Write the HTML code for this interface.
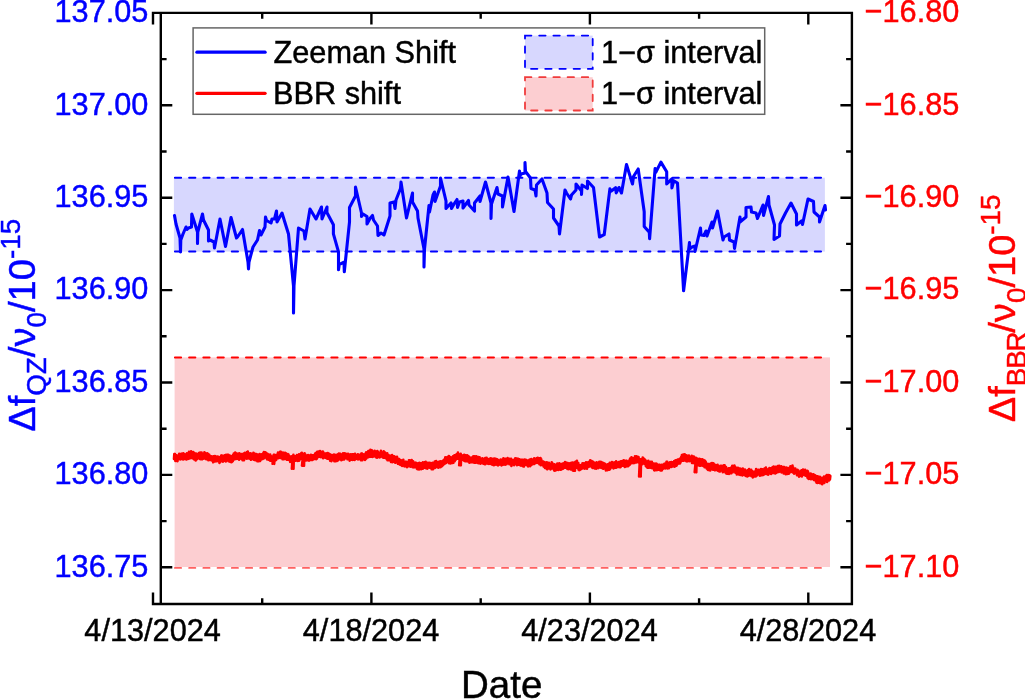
<!DOCTYPE html>
<html><head><meta charset="utf-8"><title>Zeeman and BBR shift</title>
<style>html,body{margin:0;padding:0;background:#fff;overflow:hidden;width:1025px;height:699px}svg{display:block}</style>
</head><body>
<svg width="1025" height="699" viewBox="0 0 1025 699" font-family="'Liberation Sans', Arial, sans-serif">
<rect width="1025" height="699" fill="#fff"/>
<rect x="173.9" y="177.7" width="651.0" height="73.9" fill="#d7d7fe"/>
<rect x="174.6" y="357.4" width="655.4" height="209.60000000000002" fill="#fcced1"/>
<g stroke-width="2" stroke-linecap="round" stroke-dasharray="6.22 8">
<line x1="174.9" y1="177.7" x2="824" y2="177.7" stroke="#0000ff"/>
<line x1="174.9" y1="251.6" x2="824" y2="251.6" stroke="#0000ff"/>
<line x1="174.9" y1="357.4" x2="829" y2="357.4" stroke="#ff0000"/>
<line x1="174.9" y1="567.9" x2="829" y2="567.9" stroke="#ff0000" stroke-opacity="0.62" stroke-width="1.8"/>
</g>
<polyline points="174.0,459.0 174.3,454.0 174.7,458.5 175.0,454.1 175.4,461.0 175.7,455.2 176.1,460.1 176.4,455.3 176.8,460.2 177.1,456.4 177.5,461.1 177.8,455.7 178.2,459.0 178.5,455.8 178.9,458.9 179.2,453.8 179.6,458.1 179.9,455.3 180.3,459.5 180.6,454.9 181.0,457.7 181.3,453.7 181.7,458.9 182.0,453.8 182.4,459.1 182.7,454.7 183.1,459.5 183.4,453.3 183.8,457.6 184.1,454.9 184.5,459.0 184.8,454.3 185.2,458.7 185.5,455.4 185.9,459.1 186.2,455.4 186.6,459.5 186.9,453.4 187.3,458.0 187.6,453.7 188.0,459.0 188.3,454.1 188.7,458.7 189.0,451.8 189.4,457.2 189.7,452.8 190.1,458.1 190.4,452.3 190.8,456.9 191.1,451.3 191.5,457.9 191.8,452.8 192.2,456.8 192.5,453.1 192.9,457.6 193.2,452.0 193.6,459.0 193.9,452.7 194.3,459.5 194.6,453.4 195.0,458.1 195.3,454.5 195.7,460.4 196.0,453.5 196.4,458.6 196.7,454.5 197.1,459.2 197.4,454.2 197.8,458.5 198.1,454.5 198.5,457.9 198.8,453.1 199.2,456.7 199.5,453.9 199.9,459.0 200.2,452.5 200.6,459.1 200.9,453.0 201.3,459.0 201.6,452.6 202.0,459.3 202.3,454.7 202.7,458.7 203.0,454.1 203.4,458.6 203.7,453.9 204.1,458.1 204.4,452.2 204.8,458.4 205.1,453.9 205.5,458.1 205.8,453.5 206.2,459.2 206.5,453.9 206.9,457.9 207.2,453.3 207.6,457.7 207.9,453.8 208.3,460.1 208.6,454.4 209.0,458.9 209.3,454.9 209.7,460.0 210.0,456.1 210.4,459.4 210.7,456.6 211.1,460.2 211.4,456.3 211.8,460.5 212.1,457.0 212.5,460.3 212.8,456.5 213.2,462.3 213.5,456.4 213.9,461.7 214.2,456.3 214.6,460.7 214.9,456.1 215.3,461.2 215.6,456.3 216.0,461.5 216.3,456.5 216.7,460.7 217.0,457.0 217.4,460.6 217.7,456.6 218.1,461.2 218.4,456.7 218.8,460.6 219.1,457.5 219.5,462.9 219.8,457.9 220.2,462.1 220.5,457.0 220.9,461.1 221.2,455.5 221.6,460.7 221.9,455.6 222.3,460.1 222.6,457.1 223.0,461.7 223.3,456.1 223.7,459.7 224.0,456.2 224.4,460.6 224.7,455.3 225.1,459.7 225.4,456.4 225.8,461.5 226.1,454.9 226.5,459.4 226.8,455.7 227.2,459.8 227.5,454.9 227.9,460.5 228.2,454.7 228.6,461.2 228.9,455.8 229.3,461.4 229.6,455.6 230.0,461.7 230.3,456.5 230.7,462.0 231.0,456.0 231.4,462.2 231.7,457.2 232.1,461.8 232.4,457.1 232.8,461.1 233.1,455.1 233.5,459.8 233.8,453.5 234.2,459.3 234.5,454.2 234.9,459.2 235.2,452.6 235.6,458.5 235.9,453.7 236.3,458.1 236.6,453.6 237.0,458.9 237.3,454.2 237.7,458.3 238.0,453.8 238.4,458.6 238.7,454.6 239.1,459.7 239.4,453.4 239.8,459.0 240.1,454.4 240.5,458.2 240.8,454.6 241.2,458.1 241.5,454.0 241.9,459.2 242.2,455.2 242.6,460.1 242.9,454.7 243.3,460.0 243.6,453.5 244.0,460.2 244.3,454.9 244.7,458.7 245.0,452.9 245.4,457.3 245.7,454.5 246.1,458.1 246.4,453.0 246.8,458.7 247.1,452.1 247.5,457.6 247.8,451.6 248.2,457.7 248.5,453.0 248.9,458.5 249.2,453.8 249.6,458.3 249.9,453.9 250.3,458.8 250.6,453.4 251.0,459.8 251.3,454.6 251.7,458.4 252.0,454.7 252.4,458.8 252.7,453.9 253.1,458.9 253.4,452.9 253.8,459.6 254.1,453.8 254.5,458.5 254.8,453.7 255.2,460.1 255.5,454.7 255.9,459.5 256.2,454.0 256.6,459.0 256.9,455.6 257.3,461.2 257.6,454.5 258.0,460.1 258.3,456.3 258.7,461.1 259.0,454.9 259.4,460.9 259.7,454.1 260.1,461.0 260.4,455.3 260.8,459.0 261.1,455.4 261.5,459.5 261.8,454.4 262.2,458.3 262.5,454.8 262.9,458.9 263.2,453.4 263.6,457.9 263.9,452.1 264.3,458.3 264.6,454.2 265.0,457.6 265.3,452.3 265.7,457.4 266.0,452.7 266.4,456.9 266.7,453.9 267.1,459.3 267.4,453.7 267.8,459.4 268.1,455.3 268.5,459.6 268.8,454.9 269.2,459.5 269.5,455.2 269.9,460.5 270.2,454.6 270.6,460.8 270.9,456.1 271.3,459.7 271.6,456.6 272.0,461.1 272.3,456.6 272.7,459.4 273.0,456.4 273.4,460.4 272.6,463.8 273.4,463.2 274.2,463.8 274.5,457.9 273.7,454.7 274.1,460.5 274.4,454.7 274.8,459.1 275.1,456.4 275.5,460.5 275.8,455.3 276.2,460.0 276.6,454.8 276.9,458.2 277.3,454.5 277.6,457.5 278.0,452.5 278.3,458.3 278.7,453.5 279.0,457.7 279.4,453.2 279.7,456.6 280.1,451.9 280.4,457.9 280.8,451.8 281.1,457.5 281.5,452.5 281.8,457.2 282.2,454.2 282.5,459.1 282.9,452.6 283.2,457.9 283.6,452.7 283.9,459.3 284.3,454.3 284.6,458.9 285.0,452.9 285.3,458.8 285.7,453.0 286.0,458.4 286.4,454.6 286.7,459.8 287.1,455.2 287.4,459.1 287.8,454.0 288.1,459.8 288.5,454.5 288.8,459.6 289.2,456.4 289.5,460.2 289.9,456.6 290.2,461.9 290.6,456.5 290.9,461.0 291.3,457.0 291.6,460.9 292.0,456.3 292.3,460.4 292.7,456.8 291.9,468.7 292.7,468.1 293.5,468.7 293.8,458.2 293.0,459.6 293.4,454.9 293.7,460.1 294.1,456.3 294.4,459.7 294.8,456.2 295.1,459.9 295.5,456.8 295.8,460.8 296.2,456.0 296.5,459.5 296.9,455.0 297.2,459.2 297.6,455.9 297.9,460.9 298.3,456.1 298.6,459.8 299.0,454.3 299.3,460.6 299.7,455.8 300.0,459.3 300.4,454.2 300.7,459.0 301.1,453.2 301.4,458.2 301.8,452.8 302.1,458.5 302.5,454.2 302.8,458.1 302.0,465.7 302.8,465.1 303.6,465.7 303.9,455.8 303.2,454.2 302.4,465.7 303.2,465.1 304.0,465.7 304.3,455.7 303.5,458.5 303.9,453.8 304.2,459.1 304.6,453.3 304.9,458.2 305.3,454.6 305.6,459.3 306.0,455.2 306.3,460.5 306.7,456.0 307.0,460.2 307.4,455.4 307.7,459.9 308.1,455.0 308.4,460.2 308.8,455.3 309.1,460.6 309.5,456.0 309.8,460.1 310.2,456.5 310.5,459.5 310.9,454.7 311.2,459.9 311.6,455.1 311.9,459.4 312.3,455.3 312.6,459.9 313.0,455.3 313.3,459.4 313.7,456.0 314.0,459.1 314.4,455.1 314.7,458.2 315.1,453.5 315.4,458.1 315.8,453.8 316.1,459.2 316.5,452.5 316.8,458.7 317.2,451.9 317.5,456.4 317.9,452.8 318.2,455.8 318.6,451.6 318.9,457.0 319.3,452.0 319.6,456.1 320.0,451.0 320.3,456.6 320.7,452.0 321.0,457.1 321.4,452.0 321.7,456.9 322.1,452.8 322.4,456.2 322.8,451.6 323.1,458.2 323.5,452.6 323.8,457.0 324.2,454.5 324.5,457.4 324.9,454.2 325.2,457.7 325.6,453.6 325.9,456.9 326.3,453.6 326.6,458.2 327.0,453.8 327.3,458.7 327.7,453.0 328.0,458.6 328.4,454.1 328.7,458.4 329.1,453.7 329.4,458.9 329.8,455.9 330.1,460.6 330.5,454.6 330.8,459.7 331.2,456.6 331.5,461.2 331.9,455.3 332.2,459.2 332.6,456.1 332.9,459.4 333.3,454.8 333.6,459.7 334.0,454.6 334.3,461.1 334.7,456.8 335.0,461.3 335.4,456.1 335.7,461.2 336.1,454.8 336.4,459.7 336.8,456.2 337.1,460.9 337.5,455.0 337.8,460.5 338.2,454.0 338.5,459.7 338.9,453.5 339.2,459.4 339.6,454.4 339.9,458.0 340.3,453.9 340.6,459.0 341.0,454.4 341.3,460.3 341.7,455.4 342.0,459.9 342.4,455.5 342.7,459.5 343.1,453.4 343.4,458.2 343.8,453.7 344.1,459.5 344.5,453.2 344.8,458.3 345.2,454.0 345.5,457.2 345.9,453.8 346.2,458.2 346.6,454.4 346.9,458.2 347.3,454.8 347.6,459.3 348.0,453.7 348.3,458.5 348.7,455.0 349.0,459.4 349.4,454.8 349.7,460.6 350.1,455.3 350.4,459.3 350.8,454.2 351.1,459.1 351.5,455.1 351.8,459.6 352.2,454.4 352.5,460.0 352.9,454.4 353.2,458.9 353.6,454.4 353.9,459.7 354.3,454.7 354.6,460.0 355.0,453.8 355.3,458.4 355.7,455.1 356.0,459.0 356.4,455.3 356.7,458.4 357.1,455.2 357.4,458.8 357.8,454.2 358.1,459.4 358.5,455.7 358.8,459.1 359.2,454.7 359.5,459.0 359.9,455.3 360.2,458.1 360.6,455.4 360.9,460.2 361.3,453.5 361.6,457.9 362.0,453.6 362.3,460.1 362.7,454.0 363.0,458.1 363.4,454.3 363.7,459.0 364.1,455.1 364.4,459.2 364.8,455.4 365.1,459.9 365.5,453.6 365.8,458.9 366.2,452.4 366.5,458.4 366.9,453.5 367.2,456.8 367.6,453.2 367.9,455.7 368.3,451.1 368.6,457.1 369.0,451.8 369.3,455.2 369.7,450.7 370.0,456.6 370.4,449.9 370.7,454.9 371.1,450.2 371.4,456.6 371.8,450.4 372.1,455.5 372.5,451.9 372.8,456.9 373.2,451.8 373.5,455.9 373.9,451.4 374.2,456.1 374.6,450.8 374.9,455.8 375.3,452.8 375.6,456.7 376.0,451.5 376.3,457.4 376.7,451.4 377.0,457.7 377.4,451.0 377.7,456.9 378.1,452.1 378.4,456.1 378.8,452.7 379.1,457.2 379.5,453.2 379.8,457.5 380.2,453.0 380.5,456.8 380.9,450.9 381.2,455.8 381.6,453.0 381.9,456.5 382.3,452.6 382.6,457.2 383.0,453.1 383.3,457.6 383.7,451.3 384.0,457.8 384.4,452.7 384.7,457.0 385.1,452.6 385.4,458.0 385.8,453.6 386.1,458.0 386.5,453.9 386.8,459.1 387.2,453.3 387.5,460.1 387.9,455.3 388.2,459.1 388.6,455.1 388.9,460.1 389.3,455.8 389.6,459.7 390.0,456.8 390.3,460.3 390.7,456.1 391.0,462.0 391.4,455.2 391.7,461.9 392.1,455.1 392.4,462.2 392.8,456.1 393.1,462.0 393.5,457.5 393.8,461.8 394.2,456.4 394.5,461.1 394.9,456.7 395.2,462.8 395.6,457.1 395.9,462.3 396.3,457.8 396.6,462.0 397.0,456.8 397.3,461.7 397.7,459.0 398.0,463.8 398.4,459.0 398.7,463.0 399.1,459.1 399.4,464.2 399.8,459.7 400.1,464.6 400.5,460.0 400.8,465.0 401.2,460.4 401.5,464.0 401.9,461.0 402.2,466.0 402.6,460.3 402.9,464.4 403.3,459.8 403.6,465.1 404.0,462.0 404.3,466.1 404.7,462.0 405.0,466.4 405.4,461.7 405.7,466.1 406.1,461.9 406.4,466.0 406.8,462.1 407.1,467.1 407.5,463.0 407.8,466.4 408.2,462.7 408.5,466.1 408.9,460.4 409.2,466.0 409.6,460.4 409.9,466.2 410.3,461.6 410.6,466.6 411.0,460.2 411.3,464.6 411.7,460.0 412.0,465.5 412.4,461.8 412.7,467.1 413.1,461.2 413.4,467.0 413.8,462.6 414.1,467.4 414.5,463.2 414.8,466.5 415.2,462.9 415.5,466.4 415.9,462.8 416.2,467.3 416.6,463.8 416.9,468.7 417.3,463.7 417.6,469.3 418.0,463.3 418.3,469.3 418.7,463.5 419.0,469.5 419.4,462.9 419.7,467.9 420.1,463.4 420.4,468.4 420.8,463.4 421.1,469.2 421.5,463.2 421.8,467.7 422.2,464.0 422.5,468.8 422.9,462.2 423.2,468.5 423.6,464.1 423.9,468.0 424.3,463.8 424.6,467.7 425.0,462.1 425.3,466.7 425.7,461.8 426.0,468.1 426.4,463.5 426.7,467.0 427.1,463.1 427.4,468.7 427.8,462.9 428.1,467.1 428.5,464.4 428.8,467.2 429.2,462.7 429.5,467.5 429.9,463.3 430.2,467.8 430.6,463.0 430.9,468.0 431.3,464.4 431.6,469.2 432.0,463.4 432.3,468.7 432.7,462.7 433.0,469.3 433.4,464.4 433.7,467.5 434.1,463.7 434.4,467.5 434.8,461.6 435.1,467.9 435.5,463.3 435.8,466.0 436.2,461.1 436.5,467.0 436.9,462.0 437.2,466.4 437.6,462.5 437.9,467.4 438.3,462.1 438.6,467.6 439.0,461.7 439.3,465.9 439.7,462.6 440.0,466.3 440.4,461.2 440.7,467.1 441.1,463.0 441.4,465.8 441.8,462.0 442.1,466.1 442.5,461.0 442.8,465.4 443.2,461.0 443.5,463.9 443.9,459.8 444.2,464.1 444.6,460.4 444.9,463.6 445.3,457.4 445.6,462.0 446.0,458.8 446.3,462.9 446.7,458.0 447.0,461.5 447.4,457.1 447.7,461.3 448.1,456.9 448.4,462.0 448.8,456.1 449.1,463.3 449.5,458.5 449.8,462.4 450.2,457.0 450.5,463.5 450.9,457.2 451.2,463.0 451.6,457.5 451.9,462.2 452.3,458.1 452.6,463.0 453.0,456.3 453.3,462.8 453.7,456.3 454.0,460.7 454.4,455.4 454.7,461.1 455.1,455.4 455.4,460.2 455.8,455.1 456.1,459.4 456.5,454.4 456.8,457.8 457.2,454.3 457.5,458.2 457.9,452.6 458.2,458.6 458.6,454.2 458.9,458.2 459.3,454.8 459.6,458.7 460.0,455.4 459.2,465.3 460.0,464.7 460.8,465.3 461.1,456.9 460.3,458.3 460.7,453.9 461.0,459.6 461.4,455.1 461.7,460.0 462.1,455.5 462.4,459.0 462.8,456.0 463.1,459.3 463.5,455.4 463.8,460.3 464.2,454.8 464.5,460.9 464.9,455.5 465.2,461.1 465.6,455.3 465.9,459.5 466.3,456.7 466.6,461.1 467.0,455.2 467.3,461.0 467.7,456.0 468.0,461.5 468.4,456.0 468.7,460.7 469.1,457.0 469.4,462.8 469.8,457.5 470.1,461.2 470.5,458.1 470.8,461.0 471.2,457.5 471.5,462.3 471.9,457.7 472.2,461.7 472.6,457.9 472.9,462.3 473.3,456.4 473.6,462.5 474.0,458.0 474.3,462.7 474.7,456.2 475.0,462.3 475.4,458.2 475.7,462.7 476.1,456.2 476.4,461.5 476.8,458.0 477.1,461.2 477.5,457.1 477.8,463.0 478.2,457.1 478.5,463.3 478.9,458.4 479.2,462.2 479.6,457.4 479.9,463.3 480.3,458.6 480.6,463.7 481.0,459.0 481.3,462.4 481.7,458.9 482.0,462.5 482.4,458.4 482.7,463.1 483.1,458.7 483.4,463.6 483.8,459.1 484.1,463.1 484.5,459.5 484.8,464.1 485.2,458.1 485.5,464.2 485.9,459.3 486.2,463.3 486.6,457.7 486.9,462.6 487.3,459.2 487.6,462.3 488.0,459.2 488.3,463.8 488.7,459.4 489.0,464.0 489.4,458.7 489.7,463.5 490.1,458.5 490.4,463.7 490.8,458.4 491.1,463.9 491.5,459.4 491.8,464.4 492.2,459.7 492.5,464.5 492.9,458.7 493.2,464.9 493.6,460.0 493.9,465.1 494.3,458.6 494.6,464.5 495.0,460.3 495.3,464.7 495.7,458.8 496.0,463.7 496.4,460.9 496.7,464.4 497.1,459.2 497.4,465.0 497.8,459.9 498.1,465.5 498.5,460.2 498.8,464.9 499.2,460.5 499.5,463.2 499.9,460.5 500.2,463.4 500.6,459.6 500.9,464.6 501.3,460.4 501.6,465.5 502.0,459.9 502.3,463.5 502.7,460.2 503.0,464.7 503.4,458.3 503.7,463.1 504.1,460.2 504.4,464.4 504.8,459.4 505.1,464.7 505.5,458.7 505.8,463.8 506.2,459.1 506.5,464.3 506.9,459.0 507.2,463.4 507.6,458.1 507.9,463.1 508.3,458.8 508.6,463.2 509.0,459.1 509.3,464.1 509.7,458.7 510.0,463.4 510.4,459.6 510.7,464.4 511.1,458.9 511.4,465.9 511.8,459.8 512.1,464.3 512.5,460.8 512.8,464.4 513.2,460.3 513.5,464.2 513.9,460.6 514.2,465.2 514.6,459.3 514.9,463.8 515.3,458.2 515.6,463.5 516.0,459.2 516.3,463.3 516.7,458.5 517.0,465.1 517.4,460.0 517.7,464.9 518.1,458.8 518.4,464.0 518.8,460.3 519.1,464.8 519.5,459.2 519.8,464.3 520.2,459.9 520.5,465.5 520.9,460.7 521.2,465.6 521.6,459.8 521.9,464.9 522.3,459.9 522.6,465.4 523.0,460.3 523.3,466.5 523.7,461.5 524.0,466.4 524.4,459.5 524.7,464.9 525.1,461.8 525.4,464.6 525.8,459.7 526.1,464.5 526.5,460.0 526.8,465.1 527.2,460.6 527.5,465.1 527.9,462.0 528.2,466.4 528.6,462.1 528.9,465.4 529.3,459.8 529.6,465.9 530.0,459.5 530.3,466.2 530.7,461.1 531.0,464.0 531.4,459.0 531.7,464.8 532.1,460.6 532.4,464.2 532.8,460.0 533.1,464.0 533.5,460.4 533.8,463.1 534.2,458.3 534.5,463.9 534.9,458.5 535.2,463.2 535.6,459.3 535.9,463.0 536.3,459.1 536.6,462.8 537.0,458.1 537.3,462.4 537.7,457.7 538.0,463.0 538.4,459.1 538.7,462.7 539.1,458.3 539.4,464.3 539.8,459.0 540.1,463.0 540.5,458.1 540.8,465.2 541.2,459.2 541.5,464.3 541.9,461.2 542.2,464.9 542.6,462.1 542.9,465.1 543.3,461.6 543.6,466.5 544.0,462.0 544.3,466.8 544.7,463.7 545.0,467.9 545.4,462.5 545.7,467.9 546.1,463.0 546.4,468.5 546.8,462.3 547.1,469.3 547.5,463.2 547.8,468.4 548.2,464.3 548.5,468.5 548.9,462.7 549.2,468.4 549.6,464.0 549.9,468.2 550.3,464.4 550.6,469.4 551.0,464.6 551.3,468.4 551.7,462.4 552.0,467.7 552.4,463.4 552.7,468.4 553.1,464.7 553.4,468.4 553.8,465.5 554.1,470.3 554.5,464.2 554.8,470.8 555.2,466.1 555.5,470.4 555.9,465.5 556.2,470.1 556.6,464.8 556.9,469.1 557.3,463.5 557.6,468.1 558.0,463.9 558.3,470.0 558.7,464.3 559.0,469.4 559.4,463.2 559.7,468.5 560.1,464.1 560.4,469.8 560.8,464.6 561.1,469.6 561.5,464.4 561.8,468.9 562.2,463.7 562.5,469.0 562.9,464.1 563.2,468.7 563.6,463.4 563.9,467.5 564.3,463.0 564.6,467.4 565.0,462.1 565.3,467.7 565.7,462.4 566.0,467.7 566.4,462.9 566.7,467.0 567.1,463.8 567.4,468.9 567.8,463.1 568.1,468.2 568.5,463.4 568.8,469.2 569.2,464.4 569.5,467.9 569.9,463.2 570.2,468.7 570.6,463.6 570.9,469.5 571.3,462.9 571.6,469.4 572.0,464.7 572.3,468.0 572.7,462.6 573.0,468.8 573.4,463.9 573.7,466.8 572.9,470.6 573.7,470.0 574.5,470.6 574.8,465.2 574.1,463.2 573.3,470.6 574.1,470.0 574.9,470.6 575.2,465.0 574.4,466.2 574.8,462.4 575.1,467.4 575.5,461.7 575.8,466.3 576.2,462.7 576.5,466.4 576.9,460.9 577.2,467.7 577.6,463.0 577.9,468.1 578.3,463.1 578.6,469.6 579.0,465.4 579.3,470.1 579.7,465.4 580.0,470.0 580.4,465.7 580.7,469.5 581.1,465.1 581.4,469.0 581.8,465.3 582.1,467.9 582.5,463.3 582.8,467.0 583.2,463.8 583.5,468.2 583.9,463.4 584.2,467.2 584.6,463.5 584.9,468.6 585.3,464.1 585.6,468.3 586.0,462.4 586.3,467.3 586.7,463.4 587.0,468.6 587.4,462.6 587.7,467.1 588.1,463.4 588.4,466.7 588.8,462.0 589.1,466.7 589.5,461.6 589.8,465.5 590.2,460.4 590.5,466.2 590.9,461.1 591.2,465.5 591.6,461.0 591.9,467.2 592.3,462.4 592.6,467.9 593.0,461.7 593.3,467.0 593.7,462.3 594.0,467.2 594.4,464.0 594.7,468.5 595.1,463.4 595.4,467.9 595.8,463.0 596.1,468.7 596.5,462.3 596.8,466.5 597.2,462.5 597.5,467.4 597.9,462.7 598.2,468.2 598.6,462.8 598.9,467.3 599.3,461.7 599.6,467.3 600.0,462.6 600.3,467.4 600.7,461.8 601.0,467.8 601.4,462.1 601.7,467.3 602.1,463.9 602.4,468.2 602.8,463.0 603.1,468.8 603.5,463.0 603.8,467.8 604.2,464.9 604.5,468.2 604.9,463.9 605.2,468.7 605.6,466.0 605.9,470.5 606.3,465.0 606.6,468.9 607.0,464.6 607.3,470.3 607.7,464.9 608.0,468.4 608.4,464.0 608.7,468.8 609.1,463.7 609.4,469.7 609.8,462.8 610.1,469.1 610.5,464.2 610.8,467.7 611.2,463.3 611.5,466.9 611.9,462.1 612.2,467.5 612.6,463.8 612.9,467.4 613.3,463.6 613.6,468.5 614.0,462.6 614.3,467.4 614.7,462.6 615.0,466.0 615.4,462.7 615.7,467.8 616.1,461.4 616.4,467.7 616.8,462.7 617.1,466.2 617.5,463.1 617.8,467.0 618.2,462.3 618.5,466.7 618.9,462.0 619.2,466.9 619.6,462.1 619.9,467.2 620.3,462.3 620.6,467.2 621.0,461.2 621.3,464.9 621.7,461.5 622.0,465.8 622.4,461.1 622.7,465.8 623.1,461.3 623.4,465.1 623.8,460.3 624.1,465.4 624.5,460.7 624.8,466.9 625.2,461.3 625.5,466.3 625.9,460.7 626.2,466.4 626.6,460.8 626.9,465.3 627.3,461.5 627.6,466.3 628.0,461.9 628.3,466.2 628.7,461.2 629.0,464.9 629.4,460.3 629.7,464.9 630.1,458.6 630.4,464.0 630.8,458.2 631.1,463.1 631.5,457.2 631.8,461.7 632.2,458.1 632.5,463.0 632.9,458.3 633.2,463.2 633.6,458.2 633.9,461.3 634.3,458.4 634.6,462.9 635.0,456.2 635.3,461.9 635.7,456.8 636.0,461.4 636.4,456.2 636.7,462.4 637.1,458.1 637.4,461.1 637.8,457.0 638.1,461.4 638.5,457.1 638.8,462.4 639.2,458.9 639.5,463.5 639.9,459.1 639.1,476.4 639.9,475.8 640.7,476.4 641.0,461.0 640.2,463.7 640.6,459.6 640.9,464.6 641.3,459.2 641.6,464.4 642.0,459.6 642.3,464.2 642.7,457.5 643.0,463.3 643.4,459.9 643.7,463.5 644.1,458.8 644.4,463.5 644.8,459.6 645.1,463.8 645.5,460.4 645.8,466.0 646.2,461.2 646.5,466.6 646.9,462.5 647.2,467.4 647.6,462.8 647.9,467.8 648.3,460.8 648.6,467.8 649.0,461.8 649.3,466.0 649.7,462.0 650.0,467.1 650.4,461.7 650.7,467.7 651.1,463.1 651.4,467.1 651.8,461.8 652.1,468.1 652.5,463.3 652.8,467.6 653.2,464.9 653.5,468.5 653.9,463.5 654.2,470.2 654.6,465.3 654.9,470.5 655.3,465.8 655.6,469.7 656.0,463.6 656.3,469.2 656.7,463.7 657.0,470.1 657.4,466.1 657.7,469.6 658.1,465.4 658.4,469.6 658.8,464.9 659.1,469.6 659.5,464.9 659.8,469.9 660.2,466.6 660.5,470.5 660.9,466.5 661.2,470.4 661.6,464.7 661.9,470.4 662.3,465.4 662.6,468.9 663.0,465.1 663.3,468.7 663.7,464.2 664.0,468.2 664.4,463.8 664.7,468.2 665.1,463.8 665.4,468.5 665.8,463.9 666.1,467.0 666.5,461.8 666.8,467.2 667.2,461.9 667.5,468.4 667.9,462.8 668.2,466.6 668.6,463.6 668.9,468.3 669.3,463.5 669.6,467.3 670.0,462.3 670.3,466.2 670.7,462.3 671.0,466.1 671.4,462.0 671.7,466.9 672.1,462.4 672.4,466.2 672.8,462.3 673.1,466.2 673.5,463.0 673.8,466.2 674.2,461.1 674.5,466.7 674.9,460.8 675.2,465.2 675.6,460.3 675.9,465.9 676.3,460.2 676.6,465.7 677.0,460.0 677.3,464.4 677.7,459.5 678.0,463.8 678.4,460.1 678.7,462.9 679.1,459.2 679.4,463.4 679.8,458.7 680.1,463.5 680.5,458.3 680.8,461.8 681.2,457.0 681.5,461.0 681.9,455.0 682.2,460.7 682.6,456.2 682.9,459.1 683.3,454.5 683.6,460.6 684.0,455.7 684.3,459.6 684.7,454.2 685.0,460.4 685.4,455.4 685.7,460.7 686.1,455.4 686.4,461.2 686.8,456.7 687.1,461.5 687.5,455.9 687.8,460.4 688.2,456.8 688.5,460.1 688.9,455.5 689.2,461.3 689.6,457.0 689.9,460.7 690.3,457.3 690.6,460.6 691.0,457.3 691.3,461.2 691.7,455.7 692.0,463.0 692.4,456.4 692.7,462.0 693.1,457.4 693.4,463.0 693.8,456.6 694.1,463.2 694.5,457.5 694.8,462.1 695.2,457.8 695.5,463.9 694.7,472.1 695.5,471.5 696.3,472.1 696.6,460.7 695.9,457.7 696.2,462.4 696.6,458.2 696.9,463.3 697.3,459.9 697.6,465.1 698.0,459.0 698.3,464.9 698.7,460.6 699.0,465.4 699.4,458.9 699.7,465.8 700.1,459.5 700.4,465.7 700.8,459.4 701.1,465.1 701.5,460.1 701.8,465.5 702.2,459.2 702.5,465.5 702.9,460.3 703.2,465.9 703.6,460.1 703.9,466.3 704.3,461.7 704.6,467.1 705.0,460.9 705.3,466.3 705.7,461.7 706.0,467.1 706.4,464.1 706.7,468.5 707.1,464.8 707.4,469.2 707.8,463.7 708.1,470.0 708.5,464.4 708.8,469.5 709.2,464.2 709.5,470.3 709.9,464.3 710.2,470.4 710.6,463.6 710.9,468.8 711.3,465.1 711.6,469.1 712.0,463.1 712.3,468.3 712.7,463.7 713.0,469.6 713.4,463.4 713.7,467.9 714.1,464.4 714.4,468.2 714.8,465.6 715.1,470.3 715.5,465.1 715.8,470.0 716.2,465.2 716.5,469.6 716.9,466.0 717.2,469.9 717.6,464.8 717.9,470.8 718.3,466.3 718.6,469.7 719.0,466.6 719.3,471.4 719.7,466.4 720.0,471.5 720.4,465.7 720.7,470.4 721.1,466.1 721.4,470.3 721.8,465.8 722.1,470.5 722.5,467.0 722.8,472.3 723.2,466.7 723.5,470.4 723.9,465.3 724.2,471.4 724.6,465.4 724.9,471.0 725.3,466.6 725.6,472.8 726.0,467.1 726.3,473.4 726.7,468.5 727.0,473.7 727.4,469.3 727.7,473.6 728.1,470.2 728.4,473.2 728.8,468.2 729.1,473.9 729.5,468.3 729.8,473.1 730.2,469.0 730.5,472.1 730.9,467.8 731.2,473.3 731.6,467.3 731.9,471.5 732.3,465.7 732.6,472.3 733.0,466.0 733.3,470.1 733.7,466.1 734.0,471.1 734.4,465.5 734.7,471.4 735.1,466.8 735.4,472.6 735.8,468.1 736.1,473.0 736.5,468.0 736.8,474.4 737.2,468.8 737.5,473.5 737.9,467.9 738.2,472.9 738.6,468.4 738.9,474.4 739.3,469.0 739.6,473.9 740.0,468.6 740.3,475.0 740.7,468.7 741.0,474.7 741.4,470.4 741.7,473.7 742.1,470.3 742.4,475.4 742.8,468.6 743.1,473.6 743.5,469.5 743.8,474.8 744.2,471.0 744.5,474.6 744.9,469.6 745.2,475.4 745.6,470.9 745.9,475.9 746.3,471.0 746.6,475.5 747.0,470.7 747.3,476.5 747.7,470.1 748.0,475.9 748.4,469.9 748.7,474.8 749.1,469.1 749.4,475.5 749.8,469.7 750.1,474.5 750.5,471.1 750.8,475.4 751.2,469.8 751.5,476.3 751.9,471.4 752.2,475.2 752.6,471.4 752.9,477.4 753.3,472.6 753.6,477.0 754.0,472.4 754.3,475.8 754.7,472.3 755.0,475.3 755.4,471.0 755.7,476.4 756.1,469.1 756.4,474.0 756.8,470.2 757.1,475.5 757.5,470.3 757.8,473.9 758.2,469.7 758.5,473.5 758.9,470.2 759.2,474.3 759.6,470.1 759.9,475.8 760.3,470.5 760.6,474.1 761.0,469.0 761.3,474.7 761.7,469.2 762.0,475.1 762.4,469.2 762.7,474.2 763.1,470.5 763.4,474.9 763.8,469.4 764.1,474.1 764.5,468.5 764.8,474.2 765.2,469.2 765.5,473.1 765.9,467.6 766.2,473.5 766.6,469.2 766.9,473.9 767.3,469.5 767.6,474.4 768.0,470.2 768.3,474.7 768.7,469.0 769.0,473.6 769.4,468.1 769.7,473.3 770.1,469.6 770.4,472.6 770.8,468.6 771.1,474.0 771.5,468.1 771.8,472.9 772.2,467.5 772.5,471.9 772.9,468.4 773.2,473.0 773.6,466.6 773.9,472.9 774.3,467.2 774.6,473.1 775.0,467.8 775.3,473.4 775.7,466.8 776.0,471.8 776.4,467.5 776.7,472.7 777.1,467.5 777.4,471.1 777.8,466.1 778.1,471.8 778.5,466.8 778.8,472.0 779.2,465.8 779.5,470.6 779.9,467.1 780.2,470.5 780.6,467.0 780.9,471.7 781.3,466.2 781.6,472.4 782.0,467.1 782.3,472.1 782.7,467.5 783.0,472.0 783.4,467.0 783.7,473.4 784.1,467.1 784.4,472.0 784.8,467.6 785.1,473.5 785.5,468.2 785.8,474.1 786.2,467.6 786.5,474.0 786.9,468.0 787.2,474.0 787.6,468.0 787.9,472.7 788.3,468.2 788.6,473.8 789.0,468.0 789.3,472.2 789.7,468.7 790.0,472.4 790.4,466.3 790.7,471.2 791.1,467.4 791.4,470.8 791.8,467.6 792.1,471.9 792.5,465.6 792.8,472.5 793.2,467.5 793.5,472.7 793.9,468.7 794.2,473.6 794.6,468.7 794.9,472.2 795.3,468.6 795.6,473.1 796.0,470.0 796.3,473.4 796.7,470.1 797.0,475.2 797.4,469.8 797.7,474.5 798.1,470.2 798.4,475.1 798.8,472.1 799.1,476.7 799.5,472.1 799.8,476.2 800.2,471.6 800.5,475.8 800.9,470.8 801.2,475.5 801.6,470.3 801.9,476.4 802.3,470.5 802.6,474.1 803.0,469.5 803.3,473.7 803.7,469.9 804.0,474.6 804.4,471.0 804.7,475.2 805.1,469.7 805.4,475.5 805.8,470.9 806.1,475.8 806.5,471.0 806.8,475.5 807.2,470.7 807.5,477.8 807.9,471.4 808.2,478.4 808.6,473.2 808.9,479.0 809.3,474.4 809.6,478.3 810.0,474.7 810.3,478.6 810.7,473.5 811.0,479.3 811.4,474.1 811.7,478.4 812.1,474.7 812.4,478.7 812.8,474.8 813.1,478.6 813.5,474.2 813.8,479.9 814.2,475.4 814.5,479.6 814.9,475.3 815.2,480.1 815.6,476.8 815.9,481.3 816.3,476.0 816.6,482.6 817.0,476.2 817.3,482.9 817.7,476.2 818.0,482.8 818.4,477.0 818.7,481.3 819.1,478.3 819.4,481.3 819.8,476.9 820.1,483.3 820.5,477.7 820.8,482.3 821.2,478.5 821.5,482.2 821.9,477.8 822.2,484.1 822.6,478.5 822.9,481.7 823.3,478.6 823.6,482.2 824.0,476.6 824.3,483.0 824.7,477.5 825.0,481.1 825.4,477.9 825.7,480.7 826.1,475.9 826.4,481.1 826.8,475.0 827.1,481.9 827.5,475.2 827.8,480.6 828.2,475.0 828.5,479.5 828.9,476.5 829.2,480.4 829.6,475.4 829.9,479.5 830.3,476.1" fill="none" stroke="#ff0000" stroke-width="2.6" stroke-linejoin="round" stroke-linecap="round"/>
<polyline points="174.5,215.5 176.0,224.0 180.0,238.0 180.5,252.0 180.8,240.0 183.0,234.0 186.0,227.0 187.0,229.5 188.5,228.0 191.5,227.0 191.8,214.0 197.5,232.0 197.5,243.5 197.8,232.0 202.5,214.0 203.5,220.0 208.5,230.0 208.5,241.0 210.0,240.0 214.0,242.0 214.5,248.0 220.0,219.0 225.5,246.5 231.0,217.5 236.5,238.0 237.5,237.0 242.5,229.5 248.0,262.0 248.5,269.0 249.0,262.0 253.0,247.0 257.5,240.0 259.5,230.5 261.0,235.0 265.0,227.0 265.5,217.0 266.5,220.5 271.0,223.0 272.0,219.0 274.5,219.0 276.5,211.0 277.0,222.0 282.0,213.0 288.5,234.0 293.5,286.0 293.5,313.0 294.0,286.0 298.5,228.0 304.0,231.0 305.0,239.0 310.0,209.0 316.0,219.0 321.5,207.0 322.0,219.0 327.0,207.0 326.9,212.5 333.4,224.8 333.4,233.8 338.5,251.8 338.5,269.8 339.2,264.7 344.0,262.0 344.3,271.8 349.5,222.0 349.5,207.5 355.5,196.0 355.5,187.0 361.5,213.0 361.5,216.5 363.0,214.0 367.0,216.5 367.0,224.0 370.0,218.5 372.5,215.5 373.5,220.0 377.5,226.0 378.0,235.5 381.0,233.0 384.0,235.0 390.0,216.0 390.0,203.0 394.0,202.0 395.0,208.5 396.0,200.0 400.5,188.5 401.0,182.0 406.5,218.0 412.5,193.0 412.5,202.0 417.5,211.0 418.0,218.0 424.0,249.0 424.0,267.0 424.5,249.0 429.0,205.5 429.5,212.0 433.0,195.0 434.5,192.0 435.0,201.5 440.5,186.0 440.5,178.0 446.0,201.0 446.0,208.5 451.0,203.0 451.5,208.5 454.0,204.0 457.0,199.5 457.5,207.5 459.5,202.0 463.0,201.0 463.0,208.0 468.5,200.5 469.0,205.0 474.5,211.0 474.5,203.0 480.0,196.0 480.0,201.5 485.5,182.0 491.0,203.0 491.0,218.5 491.5,204.0 497.0,187.5 498.0,194.0 502.5,196.0 502.5,207.0 508.0,177.0 514.0,211.5 519.5,171.0 520.0,176.0 521.0,174.0 525.0,173.0 525.0,162.5 525.5,171.5 530.5,178.0 531.0,188.5 535.0,190.0 536.0,196.0 536.5,185.0 542.0,179.0 547.0,193.0 547.5,202.5 553.5,209.0 553.5,218.0 559.0,226.0 559.5,234.0 565.0,190.0 566.5,193.0 570.5,199.0 571.5,195.0 576.0,190.0 576.0,184.0 581.5,191.0 581.5,194.5 582.0,185.0 587.5,188.5 587.5,181.0 593.5,187.5 599.5,237.0 604.2,234.7 609.9,188.9 611.0,191.2 615.6,187.7 616.2,192.9 619.0,187.5 621.5,193.0 626.5,164.5 632.5,184.0 633.5,176.5 638.2,169.0 644.2,211.7 644.2,226.5 649.3,232.3 649.6,238.8 655.1,168.5 655.8,172.4 660.9,162.1 666.7,171.8 666.7,184.0 671.9,178.8 671.9,187.9 673.8,180.8 677.5,183.0 683.6,290.8 689.5,242.5 689.5,249.0 692.0,247.0 695.0,246.0 695.0,251.5 700.5,228.0 701.0,235.0 704.0,235.5 706.0,231.0 707.0,236.0 712.0,222.0 712.5,228.0 717.5,211.0 723.0,240.0 724.0,237.0 729.0,234.0 729.5,240.0 734.0,242.0 734.5,248.5 740.0,217.0 740.0,222.0 746.0,217.0 746.0,207.5 751.0,207.0 751.5,212.0 756.0,213.0 757.5,218.5 763.0,205.0 763.5,215.5 768.5,196.5 769.0,205.0 774.5,225.0 774.0,239.5 779.5,236.0 780.0,224.0 785.5,213.0 791.0,203.0 796.5,214.0 796.5,225.0 801.5,221.0 802.5,224.5 808.0,199.0 813.5,201.5 814.0,212.0 819.5,217.0 819.5,222.0 825.0,205.5 825.5,210.0" fill="none" stroke="#0000ff" stroke-width="3.1" stroke-linejoin="round" stroke-linecap="round"/>
<path d="M151.8,12.9 H853.1 M151.8,604.0 H853.1 M160.8,11.700000000000001 V605.2 M851.9,11.700000000000001 V605.2 M160.8,12.9 h11.5 M851.9,12.9 h-11.5 M160.8,59.1 h5.8 M851.9,59.1 h-5.8 M160.8,105.3 h11.5 M851.9,105.3 h-11.5 M160.8,151.5 h5.8 M851.9,151.5 h-5.8 M160.8,197.7 h11.5 M851.9,197.7 h-11.5 M160.8,243.9 h5.8 M851.9,243.9 h-5.8 M160.8,290.1 h11.5 M851.9,290.1 h-11.5 M160.8,336.3 h5.8 M851.9,336.3 h-5.8 M160.8,382.5 h11.5 M851.9,382.5 h-11.5 M160.8,428.7 h5.8 M851.9,428.7 h-5.8 M160.8,474.9 h11.5 M851.9,474.9 h-11.5 M160.8,521.1 h5.8 M851.9,521.1 h-5.8 M160.8,567.3 h11.5 M851.9,567.3 h-11.5 M153.0,604.0 v-11.5 M153.0,12.9 v11.5 M262.2,604.0 v-5.8 M262.2,12.9 v5.8 M371.4,604.0 v-11.5 M371.4,12.9 v11.5 M480.7,604.0 v-5.8 M480.7,12.9 v5.8 M589.9,604.0 v-11.5 M589.9,12.9 v11.5 M699.1,604.0 v-5.8 M699.1,12.9 v5.8 M808.3,604.0 v-11.5 M808.3,12.9 v11.5" fill="none" stroke="#000" stroke-width="2.4" stroke-linecap="butt"/>
<text transform="translate(148.40,22.10) scale(1,1.04)" font-size="30.7" fill="#0000ff" stroke="#0000ff" stroke-width="0.45" text-anchor="end">137.05</text>
<text transform="translate(864.60,22.10) scale(1,1.04)" font-size="30.7" fill="#ff0000" stroke="#ff0000" stroke-width="0.45">−16.80</text>
<text transform="translate(148.40,114.50) scale(1,1.04)" font-size="30.7" fill="#0000ff" stroke="#0000ff" stroke-width="0.45" text-anchor="end">137.00</text>
<text transform="translate(864.60,114.50) scale(1,1.04)" font-size="30.7" fill="#ff0000" stroke="#ff0000" stroke-width="0.45">−16.85</text>
<text transform="translate(148.40,206.90) scale(1,1.04)" font-size="30.7" fill="#0000ff" stroke="#0000ff" stroke-width="0.45" text-anchor="end">136.95</text>
<text transform="translate(864.60,206.90) scale(1,1.04)" font-size="30.7" fill="#ff0000" stroke="#ff0000" stroke-width="0.45">−16.90</text>
<text transform="translate(148.40,299.30) scale(1,1.04)" font-size="30.7" fill="#0000ff" stroke="#0000ff" stroke-width="0.45" text-anchor="end">136.90</text>
<text transform="translate(864.60,299.30) scale(1,1.04)" font-size="30.7" fill="#ff0000" stroke="#ff0000" stroke-width="0.45">−16.95</text>
<text transform="translate(148.40,391.70) scale(1,1.04)" font-size="30.7" fill="#0000ff" stroke="#0000ff" stroke-width="0.45" text-anchor="end">136.85</text>
<text transform="translate(864.60,391.70) scale(1,1.04)" font-size="30.7" fill="#ff0000" stroke="#ff0000" stroke-width="0.45">−17.00</text>
<text transform="translate(148.40,484.10) scale(1,1.04)" font-size="30.7" fill="#0000ff" stroke="#0000ff" stroke-width="0.45" text-anchor="end">136.80</text>
<text transform="translate(864.60,484.10) scale(1,1.04)" font-size="30.7" fill="#ff0000" stroke="#ff0000" stroke-width="0.45">−17.05</text>
<text transform="translate(148.40,576.50) scale(1,1.04)" font-size="30.7" fill="#0000ff" stroke="#0000ff" stroke-width="0.45" text-anchor="end">136.75</text>
<text transform="translate(864.60,576.50) scale(1,1.04)" font-size="30.7" fill="#ff0000" stroke="#ff0000" stroke-width="0.45">−17.10</text>
<text transform="translate(152.60,641.00) scale(1,1.02)" font-size="30.7" fill="#000" stroke="#000" stroke-width="0.45" text-anchor="middle">4/13/2024</text>
<text transform="translate(371.05,641.00) scale(1,1.02)" font-size="30.7" fill="#000" stroke="#000" stroke-width="0.45" text-anchor="middle">4/18/2024</text>
<text transform="translate(589.50,641.00) scale(1,1.02)" font-size="30.7" fill="#000" stroke="#000" stroke-width="0.45" text-anchor="middle">4/23/2024</text>
<text transform="translate(807.95,641.00) scale(1,1.02)" font-size="30.7" fill="#000" stroke="#000" stroke-width="0.45" text-anchor="middle">4/28/2024</text>
<text transform="translate(501.70,698.00) scale(1,1.03)" font-size="38.5" fill="#000" stroke="#000" stroke-width="0.45" text-anchor="middle">Date</text>
<text transform="translate(35.2,431.8) scale(1,1.03) rotate(-90)" font-size="37.0" fill="#0000ff" stroke="#0000ff" stroke-width="0.45">Δf<tspan font-size="27" dy="11" letter-spacing="0">QZ</tspan><tspan dy="-11">/ν</tspan><tspan font-size="27" dy="11">0</tspan><tspan dy="-11">/10</tspan><tspan font-size="27" dy="-15">-15</tspan></text>
<text transform="translate(1014.7,422.2) scale(1,1.03) rotate(-90)" font-size="37.0" fill="#ff0000" stroke="#ff0000" stroke-width="0.45">Δf<tspan font-size="27" dy="11" letter-spacing="-1.2">BBR</tspan><tspan dy="-11">/ν</tspan><tspan font-size="27" dy="11">0</tspan><tspan dy="-11">/10</tspan><tspan font-size="27" dy="-15">-15</tspan></text>
<rect x="193.1" y="27.9" width="571.6" height="86.4" fill="#fff" stroke="#666" stroke-width="1.5"/>
<line x1="196.9" y1="52.2" x2="265.1" y2="52.2" stroke="#0000ff" stroke-width="3.2" stroke-linecap="round"/>
<line x1="196.9" y1="93.3" x2="265.1" y2="93.3" stroke="#ff0000" stroke-width="3.2" stroke-linecap="round"/>
<rect x="525" y="35.6" width="67.70000000000005" height="33.199999999999996" fill="#d7d7fe" stroke="#0000ff" stroke-width="1.8" stroke-dasharray="6.4 7.8" stroke-linecap="round"/>
<rect x="525" y="77.2" width="67.70000000000005" height="33.3" fill="#fcced1" stroke="#f03c3c" stroke-width="1.8" stroke-dasharray="6.4 7.8" stroke-linecap="round"/>
<text transform="translate(273.50,62.90) scale(1,1.02)" font-size="30.7" fill="#000" stroke="#000" stroke-width="0.45">Zeeman Shift</text>
<text transform="translate(273.00,103.60) scale(1,1.02)" font-size="30.7" fill="#000" stroke="#000" stroke-width="0.45">BBR shift</text>
<text transform="translate(601.00,62.90) scale(1,1.02)" font-size="30.7" fill="#000" stroke="#000" stroke-width="0.45">1−σ interval</text>
<text transform="translate(601.00,103.60) scale(1,1.02)" font-size="30.7" fill="#000" stroke="#000" stroke-width="0.45">1−σ interval</text>
</svg>
</body></html>
